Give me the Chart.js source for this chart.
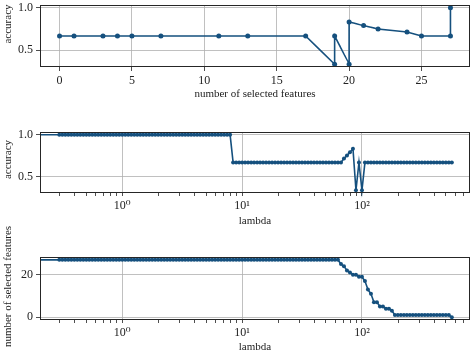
<!DOCTYPE html>
<html>
<head>
<meta charset="utf-8">
<script src="https://cdn.jsdelivr.net/npm/chart.js@4.4.0/dist/chart.umd.min.js"></script>
<style>
  body { margin: 0; background: #fff; width: 474px; height: 354px; position: relative; overflow: hidden; }
  canvas { position: absolute; left: 0; }
</style>
</head>
<body>
<canvas id="chart-feat" width="474" height="110" style="top:0px"></canvas>
<canvas id="chart-acc" width="474" height="125" style="top:110px"></canvas>
<canvas id="chart-count" width="474" height="149" style="top:205px"></canvas>
<script>
/* ---- data ---- */

// top panel: (number of selected features, accuracy) in drawing order
const featX = [0, 1, 3, 4, 5, 7, 11, 13, 17, 19, 19, 20, 20, 21, 22, 24, 25, 27, 27];
const featAcc = [0.667, 0.667, 0.667, 0.667, 0.667, 0.667, 0.667, 0.667, 0.667,
  0.333, 0.667, 0.333, 0.833, 0.79, 0.75, 0.714, 0.667, 0.667, 1.0];

// lambda grid (first point is lambda = 0, sits on the left edge of the log axis)
const lambdas = [0,
  0.2985, 0.3162, 0.3350, 0.3548, 0.3758, 0.3981, 0.4217, 0.4467, 0.4732, 0.5012,
  0.5309, 0.5623, 0.5957, 0.6310, 0.6683, 0.7079, 0.7499, 0.7943, 0.8414, 0.8913, 0.9441,
  1, 1.059, 1.122, 1.189, 1.259, 1.334, 1.413, 1.496, 1.585, 1.679,
  1.778, 1.884, 1.995, 2.113, 2.239, 2.371, 2.512, 2.661, 2.818, 2.985,
  3.162, 3.350, 3.548, 3.758, 3.981, 4.217, 4.467, 4.732, 5.012, 5.309,
  5.623, 5.957, 6.310, 6.683, 7.079, 7.499, 7.943, 8.414, 8.913, 9.441,
  10, 10.59, 11.22, 11.89, 12.59, 13.34, 14.13, 14.96, 15.85, 16.79,
  17.78, 18.84, 19.95, 21.13, 22.39, 23.71, 25.12, 26.61, 28.18, 29.85,
  31.62, 33.50, 35.48, 37.58, 39.81, 42.17, 44.67, 47.32, 50.12, 53.09,
  56.23, 59.57, 63.10, 66.83, 70.79, 74.99, 79.43, 84.14, 89.13, 94.41,
  100, 105.9, 112.2, 118.9, 125.9, 133.4, 141.3, 149.6, 158.5, 167.9,
  177.8, 188.4, 199.5, 211.3, 223.9, 237.1, 251.2, 266.1, 281.8, 298.5,
  316.2, 335.0, 354.8, 375.8, 398.1, 421.7, 446.7, 473.2, 501.2, 530.9,
  562.3];

const accuracy = [1,
  1, 1, 1, 1, 1, 1, 1, 1, 1, 1,
  1, 1, 1, 1, 1, 1, 1, 1, 1, 1, 1,
  1, 1, 1, 1, 1, 1, 1, 1, 1, 1,
  1, 1, 1, 1, 1, 1, 1, 1, 1, 1,
  1, 1, 1, 1, 1, 1, 1, 1, 1, 1,
  1, 1, 1, 1, 1, 1, 1, 0.667, 0.667, 0.667,
  0.667, 0.667, 0.667, 0.667, 0.667, 0.667, 0.667, 0.667, 0.667, 0.667,
  0.667, 0.667, 0.667, 0.667, 0.667, 0.667, 0.667, 0.667, 0.667, 0.667,
  0.667, 0.667, 0.667, 0.667, 0.667, 0.667, 0.667, 0.667, 0.667, 0.667,
  0.667, 0.667, 0.667, 0.667, 0.714, 0.75, 0.79, 0.833, 0.333, 0.667,
  0.333, 0.667, 0.667, 0.667, 0.667, 0.667, 0.667, 0.667, 0.667, 0.667,
  0.667, 0.667, 0.667, 0.667, 0.667, 0.667, 0.667, 0.667, 0.667, 0.667,
  0.667, 0.667, 0.667, 0.667, 0.667, 0.667, 0.667, 0.667, 0.667, 0.667,
  0.667];

const featureCounts = [27,
  27, 27, 27, 27, 27, 27, 27, 27, 27, 27,
  27, 27, 27, 27, 27, 27, 27, 27, 27, 27, 27,
  27, 27, 27, 27, 27, 27, 27, 27, 27, 27,
  27, 27, 27, 27, 27, 27, 27, 27, 27, 27,
  27, 27, 27, 27, 27, 27, 27, 27, 27, 27,
  27, 27, 27, 27, 27, 27, 27, 27, 27, 27,
  27, 27, 27, 27, 27, 27, 27, 27, 27, 27,
  27, 27, 27, 27, 27, 27, 27, 27, 27, 27,
  27, 27, 27, 27, 27, 27, 27, 27, 27, 27,
  27, 27, 27, 25, 24, 22, 21, 20, 20, 19,
  19, 17, 13, 11, 7, 7, 5, 5, 4, 4,
  3, 1, 1, 1, 1, 1, 1, 1, 1, 1,
  1, 1, 1, 1, 1, 1, 1, 1, 1, 1,
  0];

// tick labels
const featTicks = [0, 5, 10, 15, 20, 25];
const accTicks = [0.5, 1.0];
const countTicks = [0, 20];
const lambdaTicks = [0.3, 0.4, 0.5, 0.6, 0.7, 0.8, 0.9,
  1, 2, 3, 4, 5, 6, 7, 8, 9,
  10, 20, 30, 40, 50, 60, 70, 80, 90,
  100, 200, 300, 400, 500, 600, 700];
const lambdaLabels = { 1: '10\u2070', 10: '10\u00b9', 100: '10\u00b2' };

/* ---- styling ---- */
const LINE = '#15507e';
const GRID = '#b0b0b0';
const INK = '#222';
const SERIF = "'Liberation Serif', 'DejaVu Serif', serif";

const frame = {
  id: 'frame',
  afterDatasetsDraw(chart) {
    const a = chart.chartArea;
    const ctx = chart.ctx;
    ctx.save();
    ctx.strokeStyle = '#262626';
    ctx.lineWidth = 1;
    ctx.strokeRect(Math.round(a.left) + 0.5, Math.round(a.top) + 0.5,
      Math.round(a.right - a.left) - 1, Math.round(a.bottom - a.top) - 1);
    ctx.restore();
  }
};

// rotated y label drawn by hand so long text is not squeezed to the axis height
function sideTitle(text, shift) {
  return {
    id: 'sideTitle',
    afterDraw(chart) {
      const a = chart.chartArea;
      const ctx = chart.ctx;
      ctx.save();
      ctx.translate(8, (a.top + a.bottom) / 2 + shift);
      ctx.rotate(-Math.PI / 2);
      ctx.font = '11px ' + SERIF;
      ctx.fillStyle = INK;
      ctx.textAlign = 'center';
      ctx.textBaseline = 'middle';
      ctx.fillText(text, 0, 0);
      ctx.restore();
    }
  };
}

function noPad(s) {
  s.paddingTop = 0; s.paddingBottom = 0; s.paddingLeft = 0; s.paddingRight = 0;
}

function yAxis(min, max, values, fmt) {
  return {
    type: 'linear', min, max,
    afterFit: s => { s.width = 40; noPad(s); },
    afterBuildTicks: s => { s.ticks = values.map(v => ({ value: v })); },
    grid: { color: GRID, lineWidth: 0.8, tickColor: INK, tickLength: 4 },
    border: { display: false },
    ticks: { font: { family: SERIF, size: 12 }, color: INK, padding: 3, callback: fmt }
  };
}

function xTitle(text, padBottom) {
  return { display: true, text, font: { family: SERIF, size: 11 }, color: INK, padding: { top: 0, bottom: padBottom } };
}

function lambdaAxis(height, padBottom) {
  return {
    type: 'logarithmic', min: 0.206, max: 797,
    afterFit: s => { s.height = height; noPad(s); },
    afterBuildTicks: s => { s.ticks = lambdaTicks.map(v => ({ value: v, major: v in lambdaLabels })); },
    grid: {
      color: c => (c.tick && c.tick.major ? GRID : 'rgba(0,0,0,0)'),
      lineWidth: 0.8, tickColor: INK, tickLength: 3
    },
    border: { display: false },
    ticks: {
      font: { family: SERIF, size: 12 }, color: INK, padding: 3,
      autoSkip: false, maxRotation: 0,
      callback: v => lambdaLabels[v] || ''
    },
    title: xTitle('lambda', padBottom)
  };
}

function series(xs, ys, radius) {
  return {
    data: xs.map((x, i) => ({ x, y: ys[i] })),
    showLine: true,
    tension: 0.000001, // keeps points in their order (no same-x merging)
    borderColor: LINE,
    backgroundColor: LINE,
    borderWidth: 1.6,
    pointRadius: c => (xs[c.dataIndex] === 0 && radius < 2.5 ? 0 : radius),
    pointBorderWidth: 0,
    clip: false
  };
}

function baseOptions(padTop, scales) {
  return {
    responsive: false,
    animation: false,
    layout: { padding: { top: padTop, right: 4, left: 0, bottom: 0 } },
    plugins: { legend: { display: false }, tooltip: { enabled: false } },
    scales
  };
}

new Chart(document.getElementById('chart-feat'), {
  type: 'scatter',
  data: { datasets: [series(featX, featAcc, 2.5)] },
  options: baseOptions(5, {
    x: {
      type: 'linear', min: -1.35, max: 28.35,
      afterFit: s => { s.height = 43; noPad(s); },
      afterBuildTicks: s => { s.ticks = featTicks.map(v => ({ value: v })); },
      grid: { color: GRID, lineWidth: 0.8, tickColor: INK, tickLength: 4 },
      border: { display: false },
      ticks: { font: { family: SERIF, size: 12 }, color: INK, padding: 3, maxRotation: 0 },
      title: xTitle('number of selected features', 9)
    },
    y: yAxis(0.3, 1.033, accTicks, v => v.toFixed(1))
  }),
  plugins: [frame, sideTitle('accuracy', -12)]
});

new Chart(document.getElementById('chart-acc'), {
  type: 'scatter',
  data: { datasets: [series(lambdas, accuracy, 2)] },
  options: baseOptions(22, {
    x: lambdaAxis(42, 7),
    y: yAxis(0.3, 1.033, accTicks, v => v.toFixed(1))
  }),
  plugins: [frame, sideTitle('accuracy', -3)]
});

new Chart(document.getElementById('chart-count'), {
  type: 'scatter',
  data: { datasets: [series(lambdas, featureCounts, 2)] },
  options: baseOptions(52, {
    x: lambdaAxis(34, 0),
    y: yAxis(-1.35, 28.35, countTicks, v => String(v))
  }),
  plugins: [frame, sideTitle('number of selected features', -2)]
});
</script>
</body>
</html>
